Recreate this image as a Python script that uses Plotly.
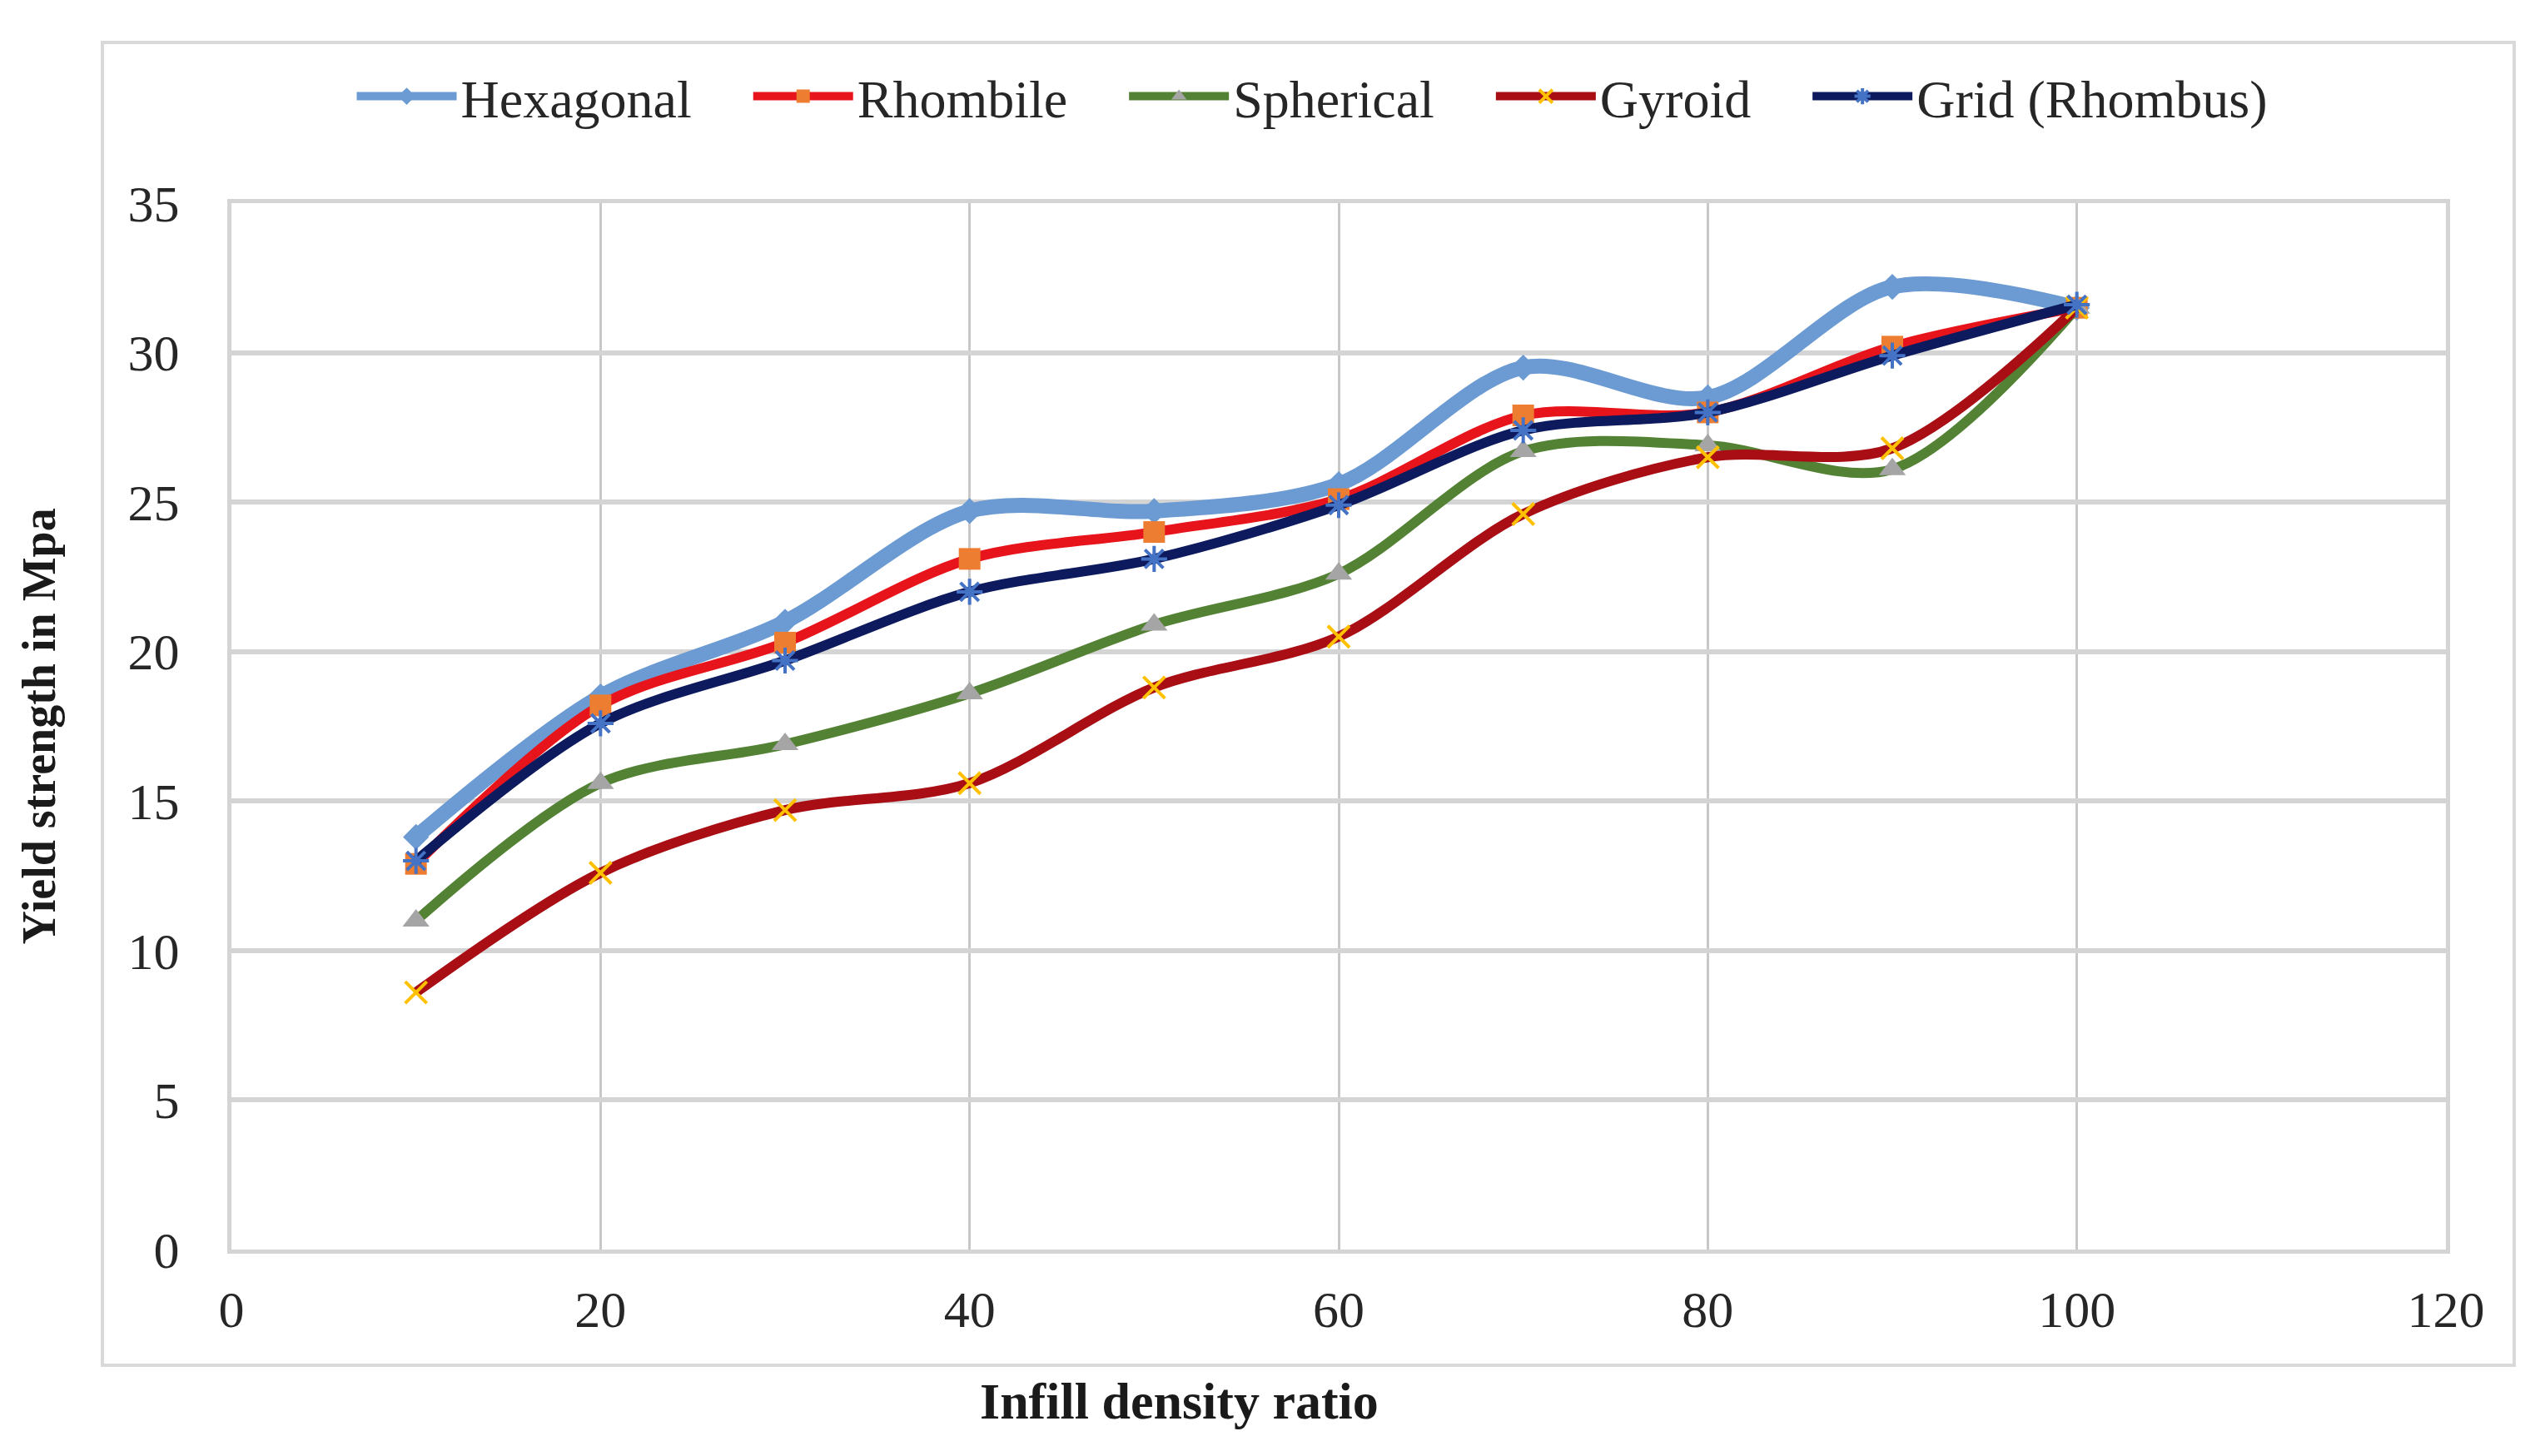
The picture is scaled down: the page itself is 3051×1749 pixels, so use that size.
import plotly.graph_objects as go

# infill density (%) on x, yield strength (MPa) on y
infill_density = [10, 20, 30, 40, 50, 60, 70, 80, 90, 100]

hexagonal = [13.8, 18.5, 21.0, 24.7, 24.7, 25.6, 29.5, 28.5, 32.2, 31.5]
rhombile = [12.9, 18.2, 20.3, 23.1, 24.0, 25.1, 27.9, 28.0, 30.2, 31.5]
spherical = [11.0, 15.6, 16.9, 18.6, 20.9, 22.6, 26.7, 26.9, 26.1, 31.5]
gyroid = [8.6, 12.6, 14.7, 15.6, 18.8, 20.5, 24.6, 26.5, 26.8, 31.5]
grid_rhombus = [13.0, 17.6, 19.7, 22.0, 23.1, 24.9, 27.4, 28.0, 29.9, 31.6]

series_names = ['Hexagonal', 'Rhombile', 'Spherical', 'Gyroid', 'Grid (Rhombus)']

FONT = 'Liberation Serif'
GAP = '\u00a0' * 4  # extra room between legend entries

W, H = 3051, 1749
M_L, M_R, M_T, M_B = 270, 121, 236, 256


def px_x(px):
    return (px - M_L) / (W - M_L - M_R)


def px_y(py):
    return (H - M_B - py) / (H - M_T - M_B)


def add_series(fig, y, name, line_color, width, symbol, m_color, m_size, open_marker=False):
    marker = dict(symbol=symbol, size=m_size, color=m_color)
    if open_marker:
        marker['line'] = dict(color=m_color, width=4)
    fig.add_trace(go.Scatter(
        x=infill_density, y=y, name=name + GAP, mode='lines+markers',
        line=dict(color=line_color, width=width, shape='spline', smoothing=0.9),
        marker=marker,
    ))


fig = go.Figure()
add_series(fig, hexagonal, series_names[0], '#6b9bd2', 18, 'diamond', '#6b9bd2', 24)
add_series(fig, rhombile, series_names[1], '#e8141b', 12, 'square', '#ed7d31', 26)
add_series(fig, spherical, series_names[2], '#548235', 12, 'triangle-up', '#a5a5a5', 28)
add_series(fig, gyroid, series_names[3], '#a80e14', 12, 'x-thin-open', '#ffc000', 26, True)
add_series(fig, grid_rhombus, series_names[4], '#0d1a5e', 12, 'asterisk-open', '#4472c4', 26, True)

fig.update_layout(
    width=W, height=H,
    margin=dict(l=M_L, r=M_R, t=M_T, b=M_B),
    paper_bgcolor='white', plot_bgcolor='white',
    font=dict(family=FONT, size=62, color='#262626'),
    showlegend=True,
    legend=dict(
        orientation='h', x=0.5, xanchor='center', y=px_y(108), yanchor='middle',
        font=dict(family=FONT, size=64, color='#262626'),
        itemwidth=120, tracegroupgap=0,
    ),
)

fig.update_xaxes(
    range=[0, 120], dtick=20, tick0=0,
    showgrid=True, gridcolor='#c8c8c8', gridwidth=3,
    showline=True, linecolor='#d4d4d4', linewidth=5, mirror=True,
    zeroline=False, ticks='', ticklabelstandoff=14,
    tickfont=dict(family=FONT, size=62, color='#262626'),
)
fig.update_yaxes(
    range=[0, 35], dtick=5, tick0=0,
    showgrid=True, gridcolor='#d4d4d4', gridwidth=6,
    showline=True, linecolor='#d4d4d4', linewidth=5, mirror=True,
    zeroline=False, ticks='', ticklabelstandoff=45,
    tickfont=dict(family=FONT, size=62, color='#262626'),
    title=dict(text='<b>Yield strength in Mpa</b>', standoff=70,
               font=dict(family=FONT, size=56, color='#1a1a1a')),
)

# x title sits left of plot centre in the reference
fig.add_annotation(
    text='<b>Infill density ratio</b>', xref='paper', yref='paper',
    x=px_x(1408), y=px_y(1675), xanchor='center', yanchor='middle',
    showarrow=False, font=dict(family=FONT, size=62, color='#1a1a1a'),
)

# chart-area border
fig.add_shape(
    type='rect', xref='paper', yref='paper',
    x0=px_x(115), x1=px_x(3012), y0=px_y(1632), y1=px_y(43),
    line=dict(color='#d9d9d9', width=4), layer='below',
)

fig.write_html('out.html')
